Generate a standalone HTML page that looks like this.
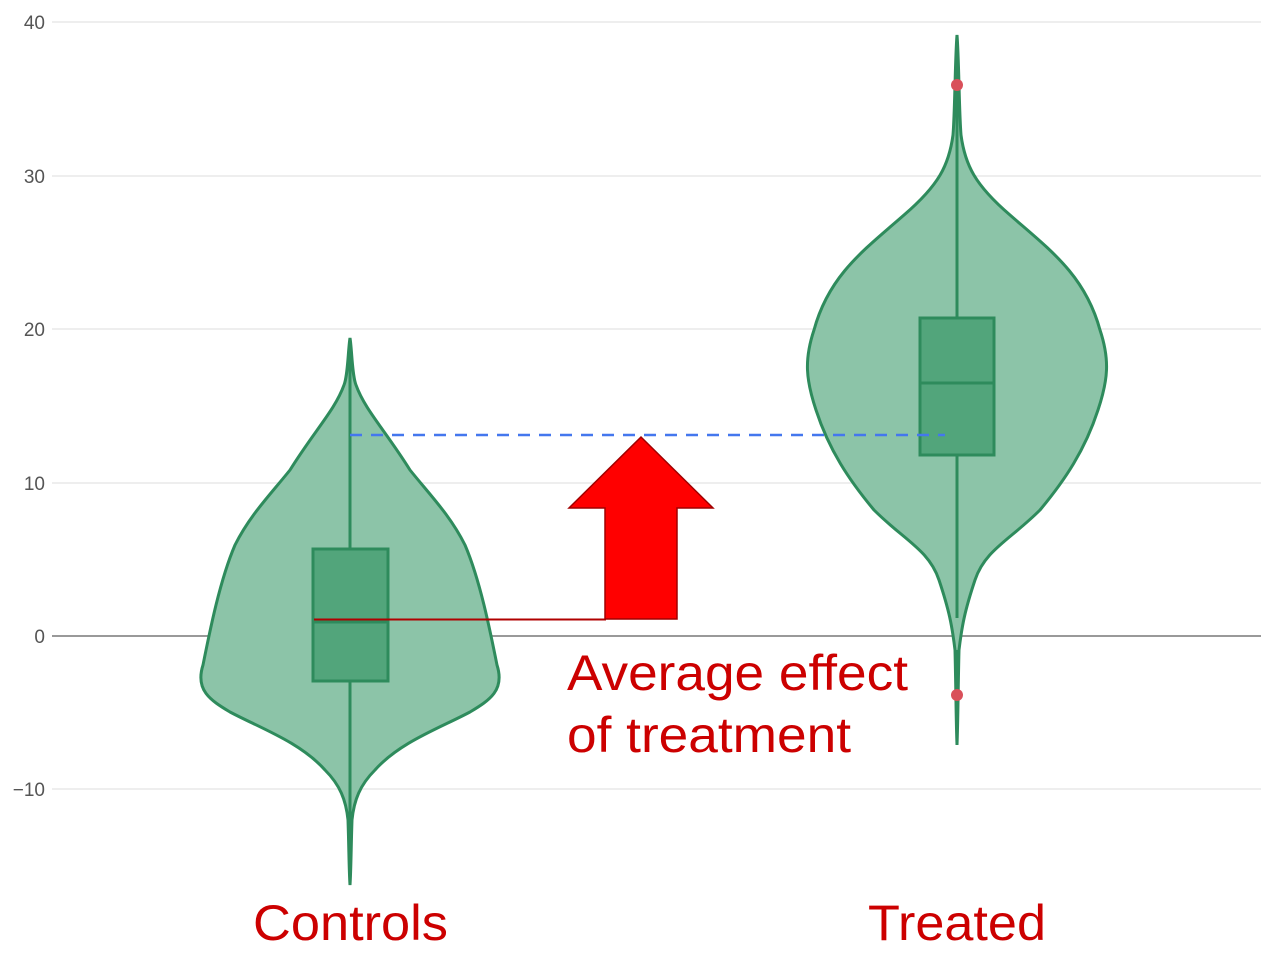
<!DOCTYPE html>
<html><head><style>body{margin:0;background:#fff}svg{display:block}</style></head><body>
<svg width="1281" height="955" xmlns="http://www.w3.org/2000/svg" font-family="Liberation Sans, sans-serif">
<g stroke="#eeeeee" stroke-width="2">
<line x1="52" y1="22" x2="1261" y2="22"/><line x1="52" y1="176" x2="1261" y2="176"/>
<line x1="52" y1="329" x2="1261" y2="329"/><line x1="52" y1="483" x2="1261" y2="483"/>
<line x1="52" y1="789" x2="1261" y2="789"/></g>
<line x1="52" y1="636" x2="1261" y2="636" stroke="#999" stroke-width="2"/>
<g fill="#555" font-size="19" text-anchor="end">
<text x="45" y="29">40</text><text x="45" y="183">30</text><text x="45" y="336">20</text>
<text x="45" y="490">10</text><text x="45" y="643">0</text><text x="45" y="796">−10</text></g>
<g fill="#8cc4a8" stroke="#2e8b5c" stroke-width="3">
<path d="M350,338 C352,350 352,375 356,385 C365,410 385,430 410,470 C430,495 450,515 465,545 C480,580 490,630 497,665 C505,690 490,700 470,712 C440,728 400,742 375,770 C360,785 354,800 352,820 C351,850 351,870 350,885 C349,870 349,850 348,820 C346,800 340,785 325,770 C300,742 260,728 230,712 C210,700 195,690 203,665 C210,630 220,580 235,545 C250,515 270,495 290,470 C315,430 335,410 344,385 C348,375 348,350 350,338 Z"/>
<path d="M957,35 C959,60 959,110 961,135 C965,165 975,185 1010,215 C1050,250 1085,275 1100,330 C1110,360 1108,380 1098,410 C1085,450 1065,480 1040,510 C1010,540 985,550 975,580 C965,610 962,625 959,650 C958,690 958,720 957,745 C956,720 956,690 955,650 C952,625 949,610 939,580 C929,550 904,540 874,510 C849,480 829,450 816,410 C806,380 804,360 814,330 C829,275 864,250 904,215 C939,185 949,165 953,135 C955,110 955,60 957,35 Z"/>
</g>
<g stroke="#2e8b5c" stroke-width="3" fill="#52a57b">
<line x1="350" y1="340" x2="350" y2="549"/><line x1="350" y1="681" x2="350" y2="885"/>
<rect x="313" y="549" width="75" height="132"/>
<line x1="313" y1="622" x2="388" y2="622"/>
<line x1="957" y1="37" x2="957" y2="318"/><line x1="957" y1="455" x2="957" y2="618"/>
<line x1="957" y1="650" x2="957" y2="745"/>
<rect x="920" y="318" width="74" height="137"/>
<line x1="920" y1="383" x2="994" y2="383"/>
</g>
<circle cx="957" cy="85" r="6" fill="#d9505a"/><circle cx="957" cy="695" r="6" fill="#d9505a"/>
<line x1="350" y1="435" x2="945" y2="435" stroke="#4477ee" stroke-width="2.5" stroke-dasharray="12,9"/>
<line x1="314" y1="619.5" x2="606" y2="619.5" stroke="#b00000" stroke-width="2"/>
<polygon points="605,619 677,619 677,508 713,508 641,437 569,508 605,508" fill="#ff0000" stroke="#a00000" stroke-width="1.5"/>
<g fill="#cc0000" font-size="50">
<text x="567" y="690" textLength="341" lengthAdjust="spacingAndGlyphs">Average effect</text>
<text x="567" y="752" textLength="284" lengthAdjust="spacingAndGlyphs">of treatment</text>
<text x="253" y="940" textLength="195" lengthAdjust="spacingAndGlyphs">Controls</text>
<text x="868" y="940" textLength="178" lengthAdjust="spacingAndGlyphs">Treated</text></g>
</svg></body></html>
